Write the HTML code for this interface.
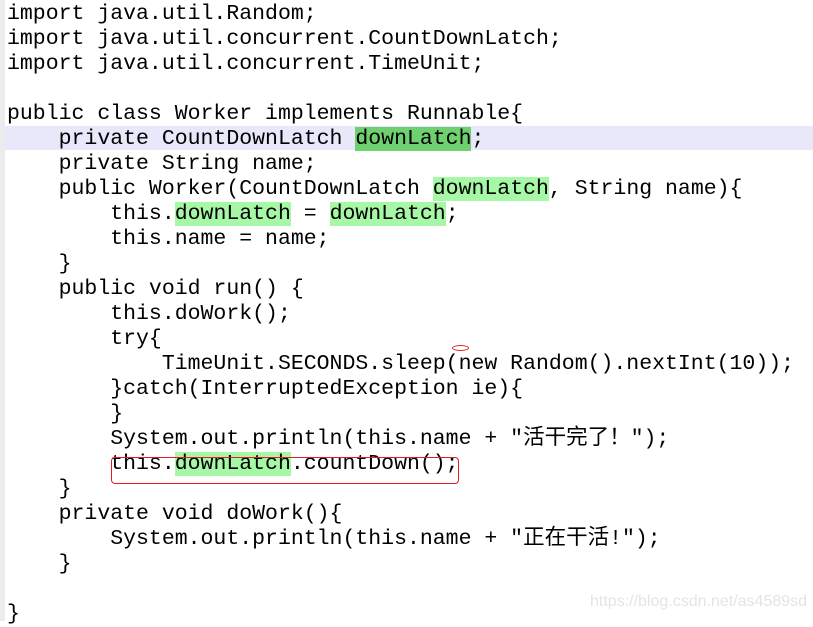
<!DOCTYPE html>
<html><head><meta charset="utf-8"><style>
html,body{margin:0;padding:0;}
body{width:813px;height:621px;background:#fff;position:relative;overflow:hidden;}
.l{position:absolute;left:7px;height:25px;line-height:25px;font-family:"Liberation Mono","Noto Sans CJK SC",monospace;font-size:21.5px;color:#000;white-space:pre;margin-top:2px;}
.g{background:#a6f7a6;}
.g2{background:#6fd06f;}
#hl{position:absolute;left:5px;top:126px;width:808px;height:24px;background:#e8e8fa;}
#bar{position:absolute;left:0;top:0;width:5px;height:621px;background:#ececec;}
#box{position:absolute;left:111px;top:457px;width:346px;height:25px;border:1px solid #e02020;border-radius:4px;}
#ov{position:absolute;left:452px;top:345px;width:15px;height:4px;border:1px solid #e02020;border-radius:50%;}
#wm{position:absolute;left:590px;top:593px;font-family:"Liberation Sans",sans-serif;font-size:16px;color:#e4e4e4;}
</style></head><body>
<div id="bar"></div>
<div id="hl"></div>
<div class="l" style="top:0">import java.util.Random;</div>
<div class="l" style="top:25px">import java.util.concurrent.CountDownLatch;</div>
<div class="l" style="top:50px">import java.util.concurrent.TimeUnit;</div>
<div class="l" style="top:100px">public class Worker implements Runnable{</div>
<div class="l" style="top:125px">    private CountDownLatch <span class="g2">downLatch</span>;</div>
<div class="l" style="top:150px">    private String name;</div>
<div class="l" style="top:175px">    public Worker(CountDownLatch <span class="g">downLatch</span>, String name){</div>
<div class="l" style="top:200px">        this.<span class="g">downLatch</span> = <span class="g">downLatch</span>;</div>
<div class="l" style="top:225px">        this.name = name;</div>
<div class="l" style="top:250px">    }</div>
<div class="l" style="top:275px">    public void run() {</div>
<div class="l" style="top:300px">        this.doWork();</div>
<div class="l" style="top:325px">        try{</div>
<div class="l" style="top:350px">            TimeUnit.SECONDS.sleep(new Random().nextInt(10));</div>
<div class="l" style="top:375px">        }catch(InterruptedException ie){</div>
<div class="l" style="top:400px">        }</div>
<div class="l" style="top:425px">        System.out.println(this.name + "活干完了！");</div>
<div class="l" style="top:450px">        this.<span class="g">downLatch</span>.countDown();</div>
<div class="l" style="top:475px">    }</div>
<div class="l" style="top:500px">    private void doWork(){</div>
<div class="l" style="top:525px">        System.out.println(this.name + "正在干活!");</div>
<div class="l" style="top:550px">    }</div>
<div class="l" style="top:600px">}</div>
<div id="box"></div>
<div id="ov"></div>
<div id="wm">https://blog.csdn.net/as4589sd</div>
</body></html>
